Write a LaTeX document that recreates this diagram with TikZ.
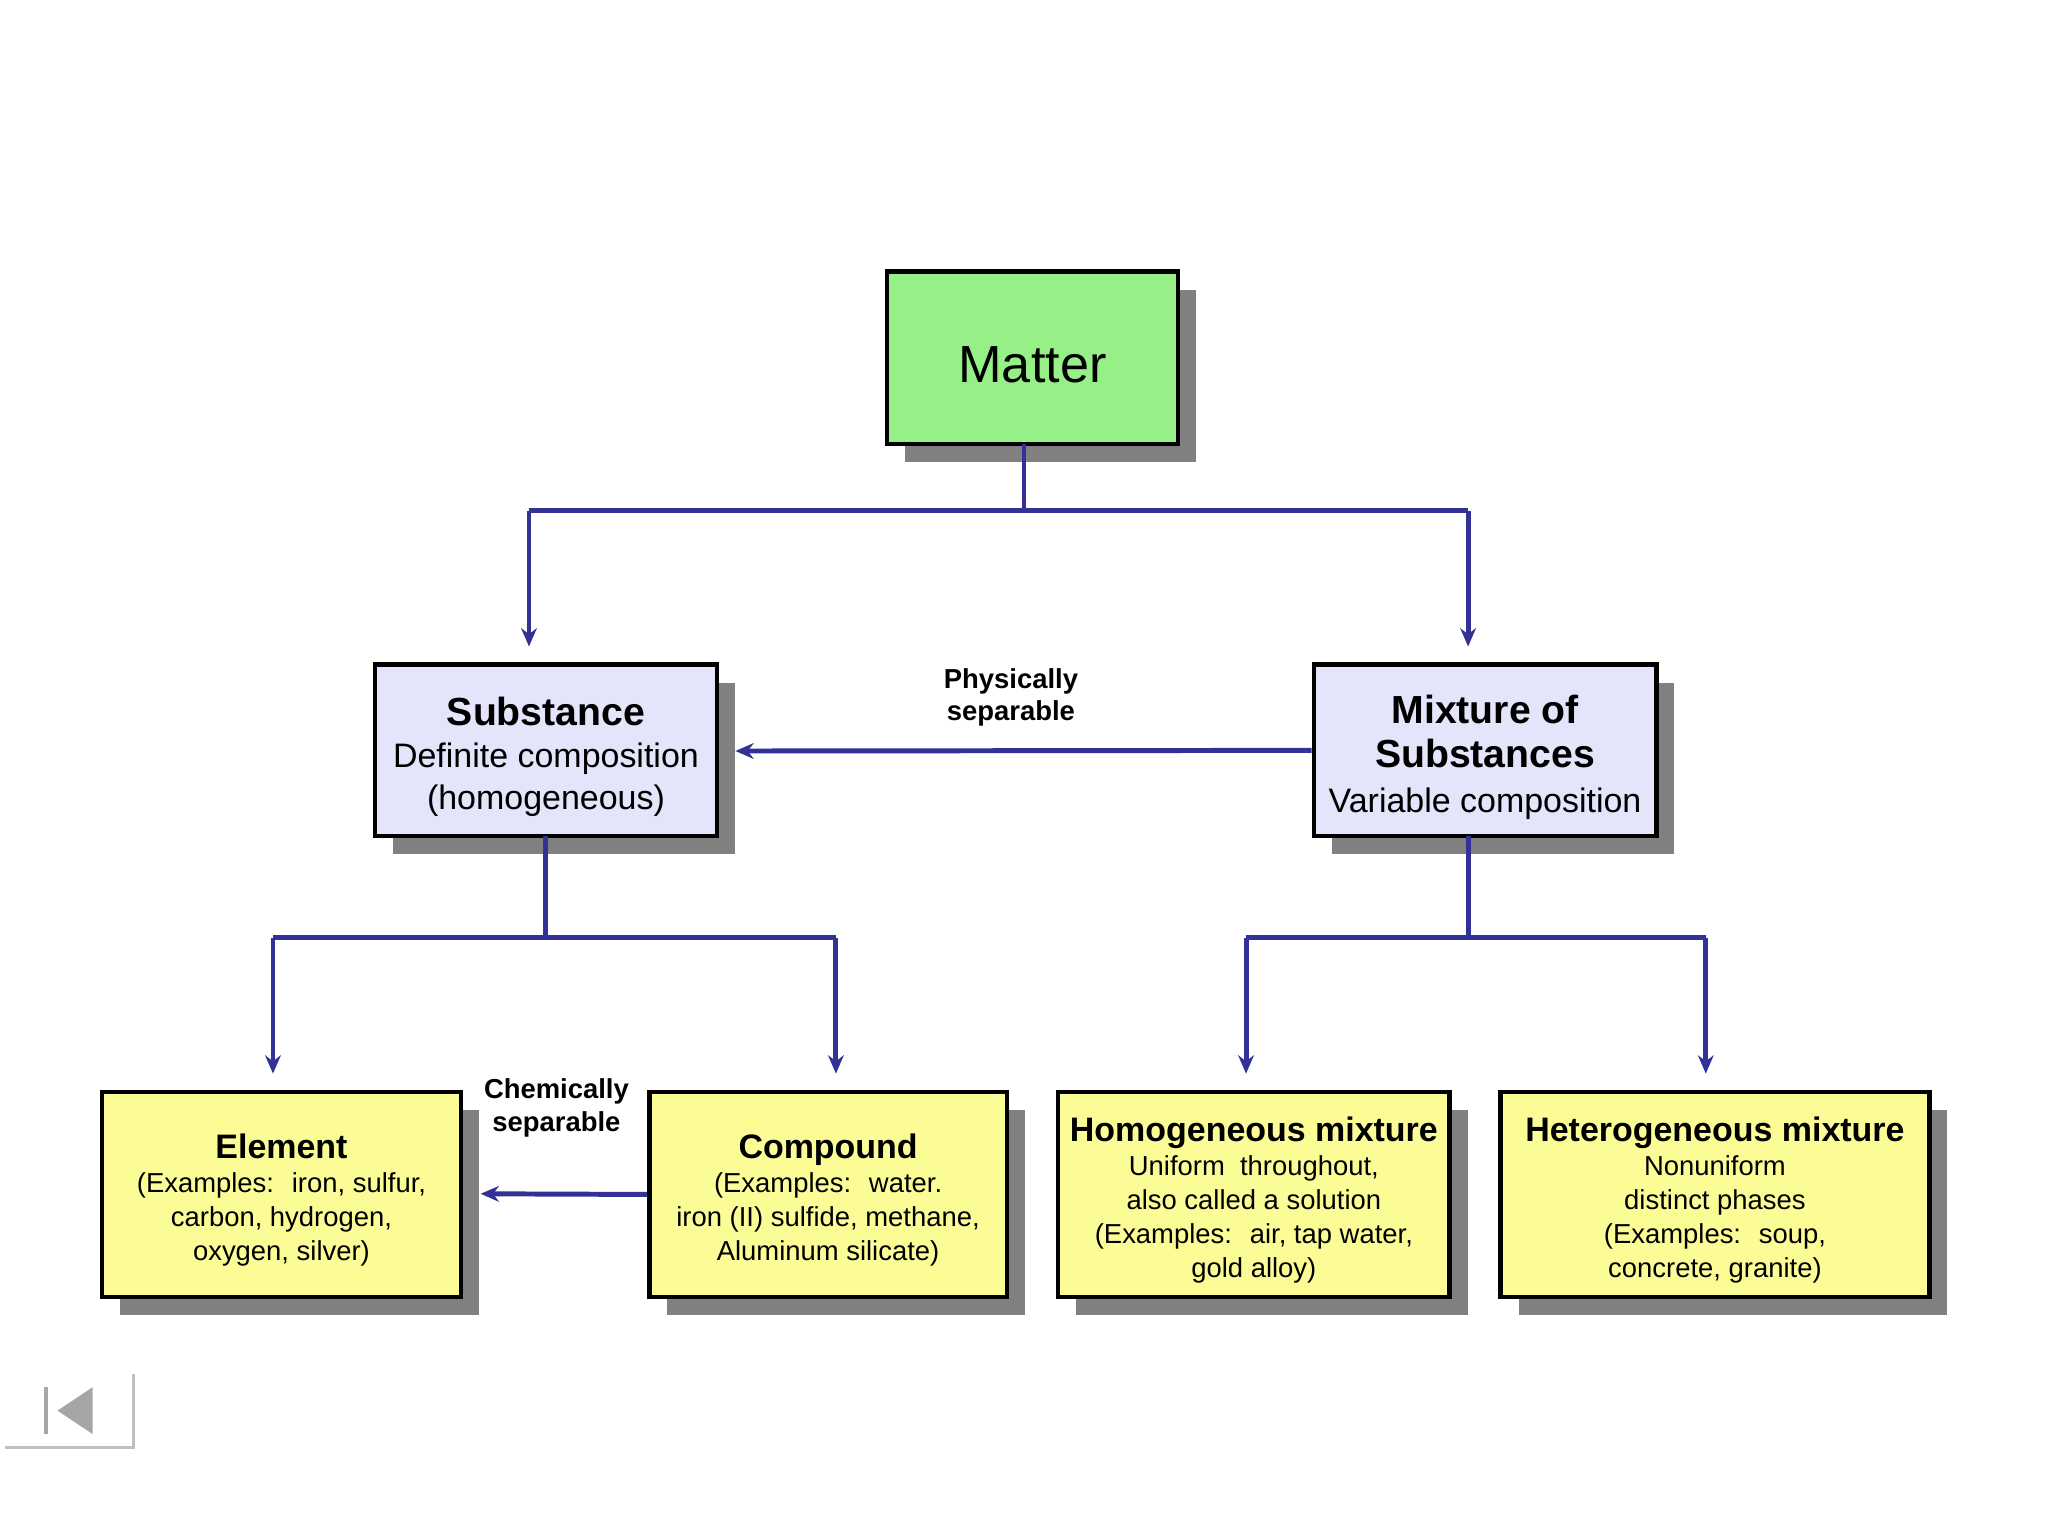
\documentclass[tikz,border=0pt]{standalone}
\usepackage{fontspec}
\setmainfont{Liberation Sans}
\usetikzlibrary{shadows,arrows.meta}
\definecolor{ln}{RGB}{50,50,150}
\definecolor{grn}{RGB}{150,240,135}
\definecolor{lav}{RGB}{228,228,250}
\definecolor{yel}{RGB}{252,252,150}
\newcommand{\bigb}{\bfseries\fontsize{15}{18}\selectfont\rule{0pt}{16pt}}
\newcommand{\medb}{\bfseries\fontsize{13}{15}\selectfont\rule{0pt}{14pt}}
\tikzset{
 box/.style={draw=black,line width=1.8pt,align=center,inner sep=0pt,
   drop shadow={shadow xshift=7pt,shadow yshift=-7pt,fill=black!50,opacity=1}},
 con/.style={draw=ln,line width=1.9pt},
 arr/.style={con,-{Stealth[length=7pt,width=6pt]}},
 lab/.style={font=\bfseries\fontsize{10.5}{12.5}\selectfont,align=center}
}
\begin{document}
\begin{tikzpicture}[x=0.5pt,y=-0.5pt]
\useasboundingbox[fill=white] (0,0) rectangle (1568,1176);
\node[box,fill=grn,minimum width=111.5pt,minimum height=66pt,font=\fontsize{20}{24}\selectfont] (m) at (790.5,274) {\rule{0pt}{19pt}Matter};
\node[box,fill=lav,minimum width=131pt,minimum height=65.5pt,font=\fontsize{13}{16}\selectfont] (s) at (418,574.5) {\bigb Substance\\Definite composition\\(homogeneous)};
\node[box,fill=lav,minimum width=131pt,minimum height=65.5pt,font=\fontsize{13}{17}\selectfont] (x) at (1137,574.5) {\bigb Mixture of\\\bigb Substances\\Variable composition};
\tikzset{bt/.style={box,fill=yel,minimum height=78.5pt,font=\fontsize{10.5}{13}\selectfont}}
\node[bt,minimum width=137.5pt] (e) at (215.5,914.5) {\medb Element\\(Examples:~ iron, sulfur,\\carbon, hydrogen,\\oxygen, silver)};
\node[bt,minimum width=137pt] (c) at (634,914.5) {\medb Compound\\(Examples:~ water.\\iron (II) sulfide, methane,\\Aluminum silicate)};
\node[bt,minimum width=150pt] (h) at (960,914.5) {\medb Homogeneous mixture\\Uniform~ throughout,\\also called a solution\\(Examples:~ air, tap water,\\gold alloy)};
\node[bt,minimum width=164pt] (g) at (1313,914.5) {\medb Heterogeneous mixture\\Nonuniform\\distinct phases\\(Examples:~ soup,\\concrete, granite)};
\coordinate (m1) at (784,391);
\coordinate (s1) at (418,718);
\coordinate (x1) at (1124,718);
\draw[con] (784,340) -- (m1);
\draw[arr] (405,391) -- (405,495);
\draw[arr] (1124,391) -- (1124,495);
\draw[con] (405,391) -- (1124,391);
\draw[con] (418,640) -- (s1);
\draw[con] (209,718) -- (640,718);
\draw[arr] (209,718) -- (209,822);
\draw[arr] (640,718) -- (640,822);
\draw[con] (1124,640) -- (x1);
\draw[con] (954,718) -- (1306,718);
\draw[arr] (954,718) -- (954,822);
\draw[arr] (1306,718) -- (1306,822);
\draw[arr] (x.west) -- (563,575);
\draw[arr] (c.west) -- (368,914);
\node[lab] at (774,534) {Physically\\separable};
\node[lab] at (426,848) {Chemically\\separable};
\draw[black!25,line width=1pt] (4,1108) -- (102,1108) -- (102,1052);
\draw[black!35,line width=1.5pt] (35,1062) -- (35,1098);
\fill[black!35] (44,1080) -- (71,1062) -- (71,1098) -- cycle;
\end{tikzpicture}
\end{document}
